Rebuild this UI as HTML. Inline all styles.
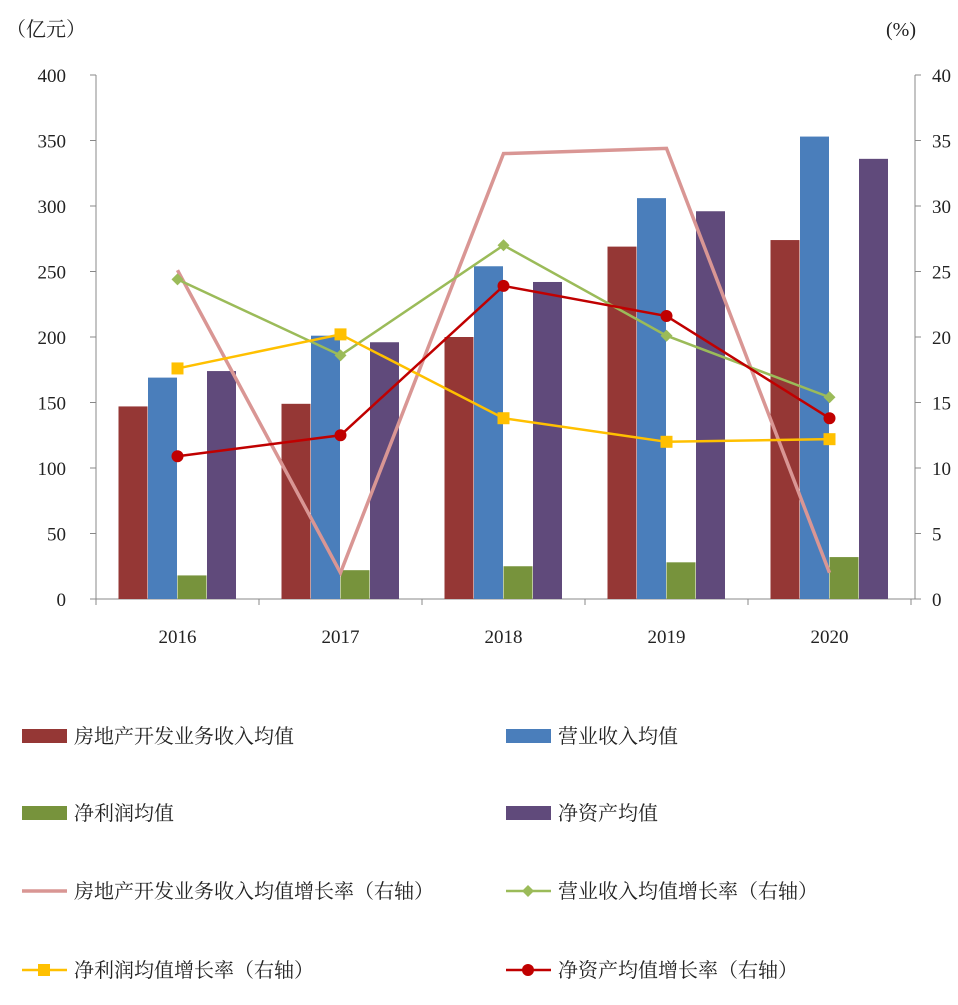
<!DOCTYPE html>
<html><head><meta charset="utf-8"><style>
html,body{margin:0;padding:0;background:#fff;}
svg text{font-family:"Liberation Serif","Noto Serif CJK SC",serif;}
.cjk{font-family:"Liberation Serif","Noto Serif CJK SC",serif;}
</style></head><body>
<svg id="chart" width="958" height="1000" xmlns="http://www.w3.org/2000/svg">
<text x="6" y="36" font-size="20" class="cjk" fill="#222">（亿元）</text>
<text x="886" y="36" font-size="20" class="cjk" fill="#222">(%)</text>
<g id="axes"></g><g id="bars"></g><g id="lines"></g><g id="legend"></g>
</svg>
<script>
const categories=["2016","2017","2018","2019","2020"];
const leftTicks=[0,50,100,150,200,250,300,350,400];
const rightTicks=[0,5,10,15,20,25,30,35,40];
const realEstateRevenue=[147,149,200,269,274];
const operatingRevenue=[169,201,254,306,353];
const netProfit=[18,22,25,28,32];
const netAssets=[174,196,242,296,336];
const realEstateGrowth=[25.1,2.0,34.0,34.4,2.0];
const revenueGrowth=[24.4,18.6,27.0,20.1,15.4];
const profitGrowth=[17.6,20.2,13.8,12.0,12.2];
const assetsGrowth=[10.9,12.5,23.9,21.6,13.8];

const NS="http://www.w3.org/2000/svg";
const X0=96,X1=915,Y0=599,Y1=75;
const groupW=(X1-X0-4)/categories.length;
const yL=v=>Y0-(v/400)*(Y0-Y1);
const yR=v=>Y0-(v/40)*(Y0-Y1);
const xC=i=>X0+groupW*(i+0.5);
function mk(tag,attrs,parent){const e=document.createElementNS(NS,tag);for(const k in attrs)e.setAttribute(k,attrs[k]);parent.appendChild(e);return e;}
const axes=document.getElementById('axes'),bars=document.getElementById('bars'),lines=document.getElementById('lines'),legend=document.getElementById('legend');

let a=mk('line',{x1:X0,y1:Y1,x2:X0,y2:Y0,stroke:'#888','stroke-width':1},axes);


a=mk('line',{x1:X1,y1:Y1,x2:X1,y2:Y0,stroke:'#888','stroke-width':1},axes);


a=mk('line',{x1:X0,y1:Y0,x2:X1,y2:Y0,stroke:'#888','stroke-width':1},axes);


leftTicks.forEach(v=>{
  mk('line',{x1:X0-6,y1:yL(v),x2:X0,y2:yL(v),stroke:'#888'},axes);
  const t=mk('text',{x:X0-30,y:yL(v)+7,'font-size':19,'text-anchor':'end',fill:'#222'},axes);t.textContent=v;
  
  
});
rightTicks.forEach(v=>{
  mk('line',{x1:X1,y1:yR(v),x2:X1+6,y2:yR(v),stroke:'#888'},axes);
  const t=mk('text',{x:X1+17,y:yR(v)+7,'font-size':19,fill:'#222'},axes);t.textContent=v;
  
  
});
for(let i=0;i<=categories.length;i++){mk('line',{x1:X0+groupW*i,y1:Y0,x2:X0+groupW*i,y2:Y0+6,stroke:'#888'},axes);}
categories.forEach((c,i)=>{
  const t=mk('text',{x:xC(i),y:Y0+44,'font-size':19,'text-anchor':'middle',fill:'#222'},axes);t.textContent=c;
  
  
});

const barSeries=[[realEstateRevenue,'#953735','bar-real-estate-revenue'],[operatingRevenue,'#4a7ebb','bar-operating-revenue'],[netProfit,'#77933c','bar-net-profit'],[netAssets,'#604a7b','bar-net-assets']];
const bw=29.5;
barSeries.forEach((s,k)=>{
  s[0].forEach((v,i)=>{
    const x=xC(i)-2*bw+k*bw;
    const r=mk('rect',{x:x,y:yL(v),width:bw-0.5,height:Y0-yL(v),fill:s[1]},bars);
    
    
  });
});

const lineSeries=[[realEstateGrowth,'#d99694',3.5,null,'line-real-estate-growth'],[revenueGrowth,'#9bbb59',2.5,'diamond','line-revenue-growth'],[profitGrowth,'#ffc000',2.5,'square','line-profit-growth'],[assetsGrowth,'#c00000',2.5,'circle','line-assets-growth']];
function marker(type,x,y,color,parent,name){
  let m;
  if(type==='diamond')m=mk('polygon',{points:`${x},${y-6} ${x+6},${y} ${x},${y+6} ${x-6},${y}`,fill:color},parent);
  else if(type==='square')m=mk('rect',{x:x-6,y:y-6,width:12,height:12,fill:color},parent);
  else if(type==='circle')m=mk('circle',{cx:x,cy:y,r:6,fill:color},parent);
  if(m){}
}
lineSeries.forEach(s=>{
  const pts=s[0].map((v,i)=>`${xC(i)},${yR(v)}`).join(' ');
  const p=mk('polyline',{points:pts,fill:'none',stroke:s[1],'stroke-width':s[2]},lines);
  
  
  if(s[3])s[0].forEach((v,i)=>marker(s[3],xC(i),yR(v),s[1],lines,s[4]+'-point'));
});

const legendItems=[
 ['房地产开发业务收入均值','#953735','bar',22,736],['营业收入均值','#4a7ebb','bar',506,736],
 ['净利润均值','#77933c','bar',22,813],['净资产均值','#604a7b','bar',506,813],
 ['房地产开发业务收入均值增长率（右轴）','#d99694','line',22,891],['营业收入均值增长率（右轴）','#9bbb59','diamond',506,891],
 ['净利润均值增长率（右轴）','#ffc000','square',22,970],['净资产均值增长率（右轴）','#c00000','circle',506,970]];
legendItems.forEach(it=>{
  const g=mk('g',{},legend);
  
  
  const [label,color,type,x,y]=it;
  if(type==='bar')mk('rect',{x:x,y:y-7,width:45,height:14,fill:color},g);
  else{mk('line',{x1:x,y1:y,x2:x+45,y2:y,stroke:color,'stroke-width':type==='line'?3.5:2.5},g);if(type!=='line')marker(type,x+22,y,color,g,'legend-marker');}
  const t=mk('text',{x:x+52,y:y+7,'font-size':20,fill:'#222','class':'cjk'},g);t.textContent=label;
});
</script>
</body></html>
